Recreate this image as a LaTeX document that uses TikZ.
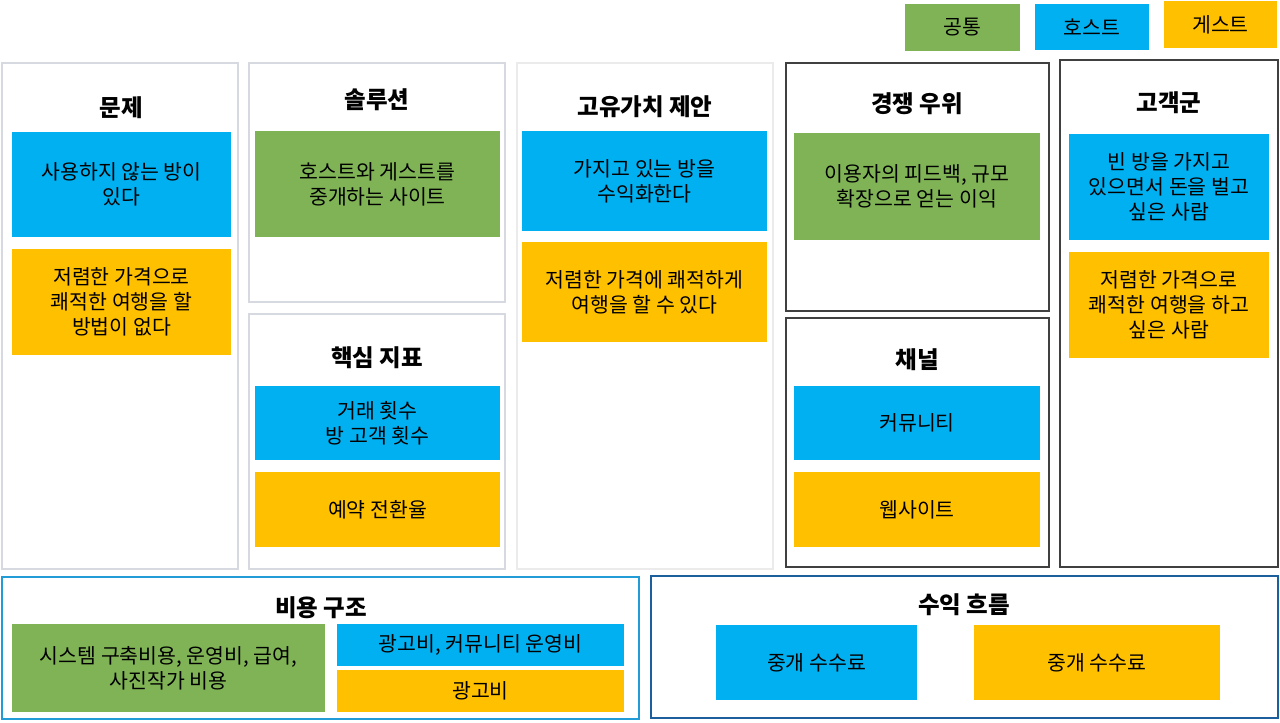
\documentclass[tikz,border=0pt]{standalone}
\usepackage{fontspec}
\setmainfont{Noto Sans CJK KR}
\definecolor{cblue}{HTML}{00B0F0}
\definecolor{cyellow}{HTML}{FFC000}
\definecolor{cgreen}{HTML}{7FB355}
\definecolor{lgray}{HTML}{D6D9DF}
\definecolor{vlgray}{HTML}{EBEBEB}
\definecolor{dgray}{HTML}{404040}
\definecolor{costb}{HTML}{229CD6}
\definecolor{revb}{HTML}{1D5F9C}
\tikzset{
  panel/.style={draw, line width=1.5pt, fill=white, inner sep=0pt},
  title/.style={font=\fontsize{23.5}{27}\selectfont\bfseries, inner sep=0pt},
  cell/.style={inner sep=0pt, align=center, font=\fontsize{20.5}{25}\selectfont},
  bcell/.style={cell, fill=cblue},
  ycell/.style={cell, fill=cyellow},
  gcell/.style={cell, fill=cgreen},
}
\begin{document}
\begin{tikzpicture}[x=1pt,y=-1pt]
\useasboundingbox[fill=white] (0,0) rectangle (1280,723);
% legend
\node[gcell, minimum width=115pt, minimum height=47pt] (lg) at (962.5,27.5) {공통};
\node[bcell, minimum width=114pt, minimum height=46pt] (lb) at (1092,27) {호스트};
\node[ycell, minimum width=113pt, minimum height=47pt] (ly) at (1220.5,24.5) {게스트};
% panels
\node[panel, draw=lgray, minimum width=236pt, minimum height=506pt] (p1) at (120,316) {};
\node[panel, draw=lgray, minimum width=256pt, minimum height=239pt] (p2) at (377,182.5) {};
\node[panel, draw=lgray, minimum width=256pt, minimum height=255pt] (p3) at (377,441.5) {};
\node[panel, draw=vlgray, minimum width=256pt, minimum height=506pt] (p4) at (645,316) {};
\node[panel, draw=dgray, minimum width=263pt, minimum height=248pt] (p5) at (917.5,187) {};
\node[panel, draw=dgray, minimum width=263pt, minimum height=249pt] (p6) at (917.5,442.5) {};
\node[panel, draw=dgray, minimum width=218pt, minimum height=507pt] (p7) at (1169,313.5) {};
\node[panel, draw=costb, minimum width=637pt, minimum height=142pt] (p8) at (320.5,648) {};
\node[panel, draw=revb, minimum width=627pt, minimum height=142pt] (p9) at (964.5,647) {};
% titles
\node[title] (t1) at (121,108) {문제};
\node[title] (t2) at (377,100) {솔루션};
\node[title] (t3) at (377,358) {핵심 지표};
\node[title] (t4) at (645,107) {고유가치 제안};
\node[title] (t5) at (917,104) {경쟁 우위};
\node[title] (t6) at (917,360) {채널};
\node[title] (t7) at (1169,103) {고객군};
\node[title] (t8) at (321,608) {비용 구조};
\node[title] (t9) at (964,605) {수익 흐름};
% cells
\node[bcell, minimum width=219pt, minimum height=105pt] (b1) at (121.5,184.5) {사용하지 않는 방이\\있다};
\node[ycell, minimum width=219pt, minimum height=106pt] (y1) at (121.5,302) {저렴한 가격으로\\쾌적한 여행을 할\\방법이 없다};
\node[gcell, minimum width=245pt, minimum height=106pt] (g2) at (377.5,184) {호스트와 게스트를\\중개하는 사이트};
\node[bcell, minimum width=245pt, minimum height=74pt] (b3) at (377.5,423) {거래 횟수\\방 고객 횟수};
\node[ycell, minimum width=245pt, minimum height=75pt] (y3) at (377.5,509.5) {예약 전환율};
\node[bcell, minimum width=245pt, minimum height=100pt] (b4) at (644.5,181) {가지고 있는 방을\\수익화한다};
\node[ycell, minimum width=245pt, minimum height=100pt] (y4) at (644.5,292) {저렴한 가격에 쾌적하게\\여행을 할 수 있다};
\node[gcell, minimum width=246pt, minimum height=107pt] (g5) at (917,186.5) {이용자의 피드백, 규모\\확장으로 얻는 이익};
\node[bcell, minimum width=246pt, minimum height=74pt] (b6) at (917,423) {커뮤니티};
\node[ycell, minimum width=246pt, minimum height=75pt] (y6) at (917,509.5) {웹사이트};
\node[bcell, minimum width=200pt, minimum height=106pt] (b7) at (1169,187) {빈 방을 가지고\\있으면서 돈을 벌고\\싶은 사람};
\node[ycell, minimum width=200pt, minimum height=106pt] (y7) at (1169,305) {저렴한 가격으로\\쾌적한 여행을 하고\\싶은 사람};
\node[gcell, minimum width=313pt, minimum height=88pt] (g8) at (168.5,668) {시스템 구축비용, 운영비, 급여,\\사진작가 비용};
\node[bcell, minimum width=287pt, minimum height=42pt] (b8) at (480.5,645) {광고비, 커뮤니티 운영비};
\node[ycell, minimum width=287pt, minimum height=42pt] (y8) at (480.5,691) {광고비};
\node[bcell, minimum width=201pt, minimum height=75pt] (b9) at (816.5,662.5) {중개 수수료};
\node[ycell, minimum width=246pt, minimum height=75pt] (y9) at (1097,662.5) {중개 수수료};
\end{tikzpicture}
\end{document}
